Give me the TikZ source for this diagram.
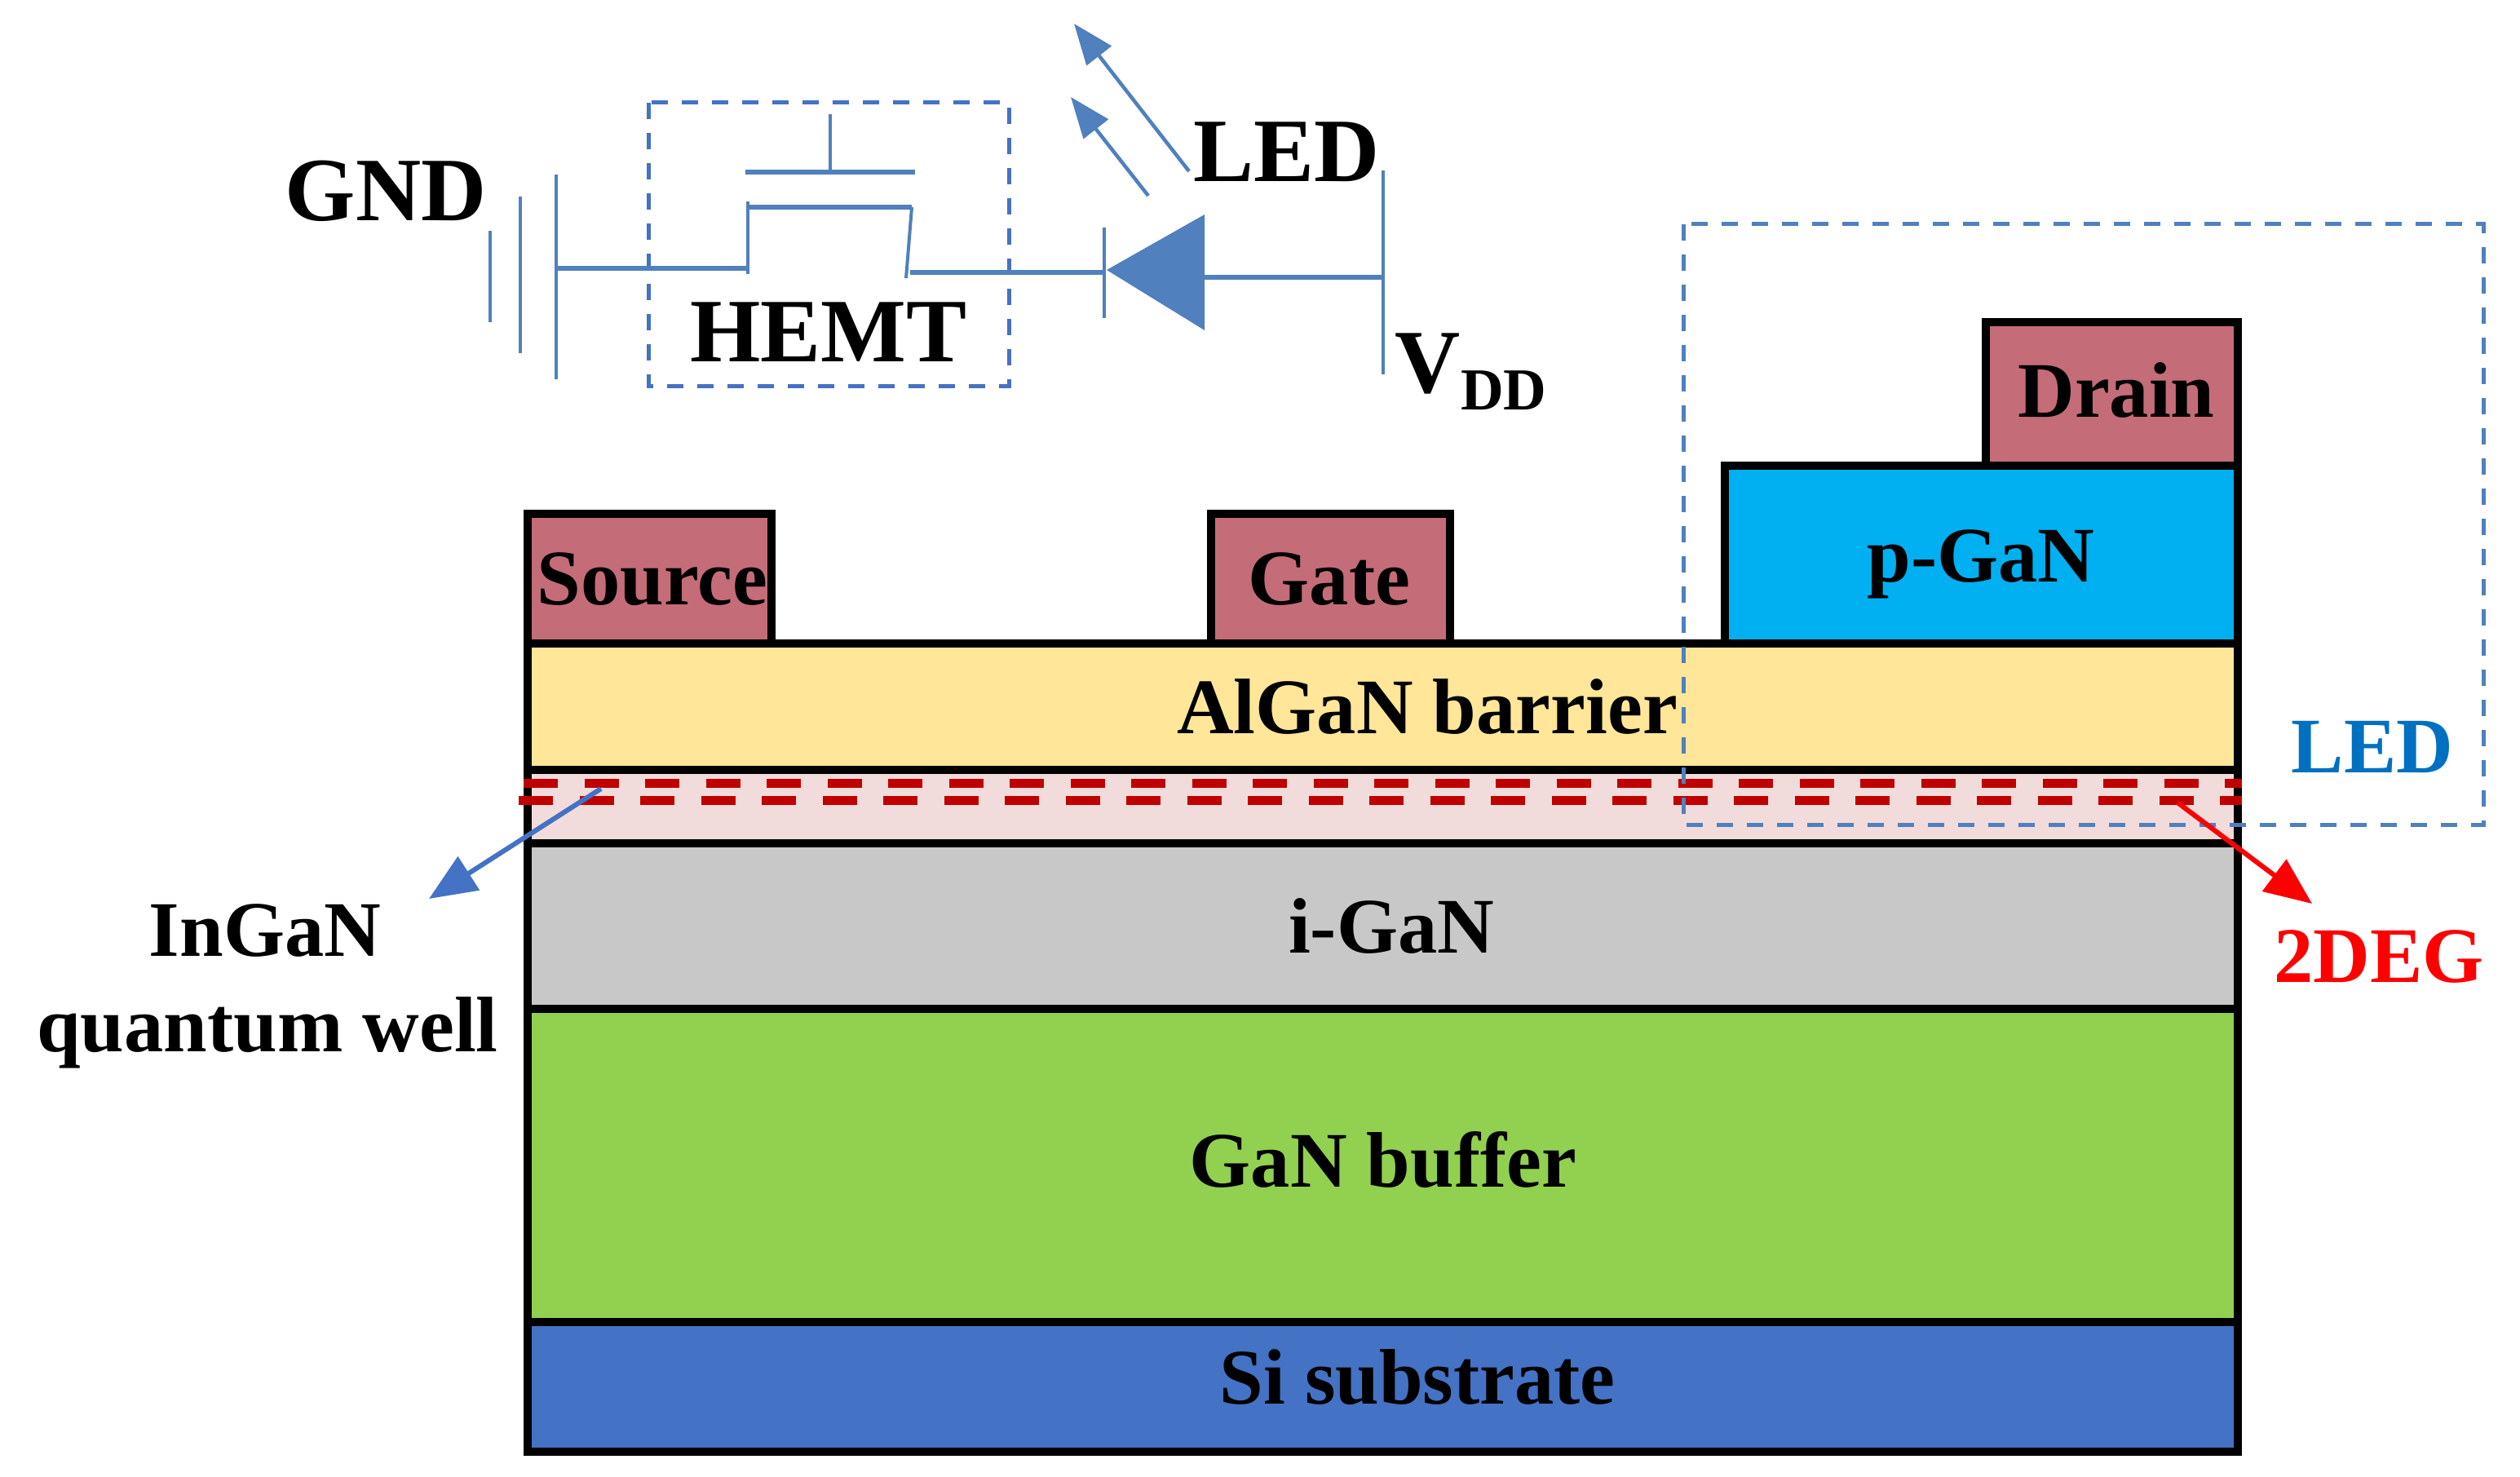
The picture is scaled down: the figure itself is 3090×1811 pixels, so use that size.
\documentclass[tikz,border=0pt]{standalone}
\usepackage{fontspec}
\setmainfont{Liberation Serif}
\usetikzlibrary{arrows.meta}
\definecolor{metal}{HTML}{C46C78}
\definecolor{pgan}{HTML}{00B0F0}
\definecolor{algan}{HTML}{FFE699}
\definecolor{pinkq}{HTML}{F2DCDB}
\definecolor{igan}{HTML}{C8C8C8}
\definecolor{buffer}{HTML}{92D050}
\definecolor{sisub}{HTML}{4472C4}
\definecolor{wire}{HTML}{5080BD}
\definecolor{boxb}{HTML}{4472C4}
\definecolor{deg}{HTML}{C00000}
\definecolor{ledb}{HTML}{0070C0}
\tikzset{
  layer/.style={draw=black,line width=10.5pt,line join=miter},
  lab/.style={font=\bfseries\fontsize{96.5}{100}\selectfont,anchor=base,inner sep=0pt,outer sep=0pt},
  biglab/.style={font=\bfseries\fontsize{111}{116}\selectfont,anchor=base,inner sep=0pt,outer sep=0pt},
  ckt/.style={draw=wire,line width=4pt},
  cktthick/.style={draw=wire,line width=6pt},
  tip/.style={-{Triangle[length=58pt,width=48pt]}},
  smalltip/.style={-{Triangle[length=50pt,width=38pt]}},
  twodeg/.style={draw=deg,line width=11pt,dash pattern=on 42pt off 32.5pt},
  dbox/.style={line width=5pt,dash pattern=on 20pt off 17pt},
}
\begin{document}
\begin{tikzpicture}[x=1pt,y=-1pt]
\useasboundingbox (0,0) rectangle (3090,1811);
% layers
\draw[layer,fill=sisub] (647,1621) rectangle (2744,1780);
\draw[layer,fill=buffer] (647,1237) rectangle (2744,1621);
\draw[layer,fill=igan] (647,1034) rectangle (2744,1237);
\draw[layer,fill=pinkq] (647,944) rectangle (2744,1034);
\draw[layer,fill=algan] (647,789) rectangle (2744,944);
\draw[layer,fill=metal] (647,630) rectangle (946,789);
\draw[layer,fill=metal] (1485,630) rectangle (1778,789);
\draw[layer,fill=pgan] (2115,571) rectangle (2744,789);
\draw[layer,fill=metal] (2435,395) rectangle (2744,571);
% 2DEG dashes
\coordinate (d1a) at (642,960); \coordinate (d1b) at (2749,960);
\coordinate (d2a) at (636,981); \coordinate (d2b) at (2749,981);
\draw[twodeg] (d1a) -- (d1b);
\draw[twodeg] (d2a) -- (d2b);
% LED box
\draw[draw=wire,dbox] (2064,275) rectangle (3045,1011);
% layer labels
\node[lab] (source) at (800,741) {Source};
\node[lab] (gate) at (1630,741) {Gate};
\node[lab] (drain) at (2595,511) {Drain};
\node[lab] (pgantext) at (2429,713) {p-GaN};
\node[lab] (algantext) at (1750,899) {AlGaN barrier};
\node[lab] (igantext) at (1706,1168) {i-GaN};
\node[lab] (buffertext) at (1696,1455) {GaN buffer};
\node[lab] (sitext) at (1738,1721) {Si substrate};
\node[lab,text=ledb] (ledlab) at (2909,947) {LED};
\node[lab,text=red] (deglab) at (2917,1204) {2DEG};
\node[lab] (ingan) at (325,1172) {InGaN};
\node[lab] (qw) at (328,1289) {quantum well};
% pointer arrows
\coordinate (qwa) at (737,967); \coordinate (qwb) at (526,1102);
\draw[tip,draw=boxb,fill=boxb,line width=6pt] (qwa) -- (qwb);
\coordinate (dga) at (2670,984); \coordinate (dgb) at (2835,1108);
\draw[tip,draw=red,fill=red,line width=6pt] (dga) -- (dgb);
% HEMT box
\draw[draw=boxb,dbox] (795,126) rectangle (1237,473);
% ground
\coordinate (g1a) at (682,214); \coordinate (g1b) at (682,465);
\coordinate (g2a) at (638,241); \coordinate (g2b) at (638,433);
\coordinate (g3a) at (601,283); \coordinate (g3b) at (601,395);
\draw[ckt] (g1a) -- (g1b);
\draw[ckt] (g2a) -- (g2b);
\draw[ckt] (g3a) -- (g3b);
% HEMT symbol
\coordinate (sw) at (682,329); \coordinate (swe) at (917,329);
\draw[cktthick] (sw) -- (swe);
\coordinate (cha) at (917,247); \coordinate (chb) at (917,336);
\draw[ckt] (cha) -- (chb);
\coordinate (tla) at (917,254); \coordinate (tlb) at (1118,254);
\draw[cktthick] (tla) -- (tlb);
\coordinate (dv) at (1111,341);
\draw[ckt] (tlb) -- (dv);
\coordinate (gta) at (1018,140); \coordinate (gtb) at (1018,211);
\draw[ckt] (gta) -- (gtb);
\coordinate (gba) at (914,211); \coordinate (gbb) at (1122,211);
\draw[cktthick] (gba) -- (gbb);
% diode
\coordinate (dwa) at (1116,334); \coordinate (dwb) at (1354,334);
\draw[cktthick] (dwa) -- (dwb);
\coordinate (bara) at (1354,279); \coordinate (barb) at (1354,390);
\draw[ckt] (bara) -- (barb);
\coordinate (tria) at (1357,331); \coordinate (trib) at (1477,263); \coordinate (tric) at (1477,405);
\fill[wire] (tria) -- (trib) -- (tric) -- cycle;
\coordinate (vw) at (1477,340); \coordinate (vwb) at (1696,340);
\draw[cktthick] (vw) -- (vwb);
\coordinate (vda) at (1696,209); \coordinate (vdb) at (1696,459);
\draw[ckt] (vda) -- (vdb);
% light arrows
\coordinate (l1a) at (1458,210); \coordinate (l1b) at (1317,29);
\draw[smalltip,draw=wire,fill=wire,line width=4.5pt] (l1a) -- (l1b);
\coordinate (l2a) at (1408,240); \coordinate (l2b) at (1313,119);
\draw[smalltip,draw=wire,fill=wire,line width=4.5pt] (l2a) -- (l2b);
% circuit labels
\node[biglab] (gnd) at (473,271) {GND};
\node[biglab] (hemt) at (1016,443) {HEMT};
\node[biglab] (ledtop) at (1578,223) {LED};
\node[biglab,anchor=base west] (v) at (1710,481) {V};
\node[lab,font=\bfseries\fontsize{73}{76}\selectfont,anchor=base west] (dd) at (1791,502) {DD};
\end{tikzpicture}
\end{document}
